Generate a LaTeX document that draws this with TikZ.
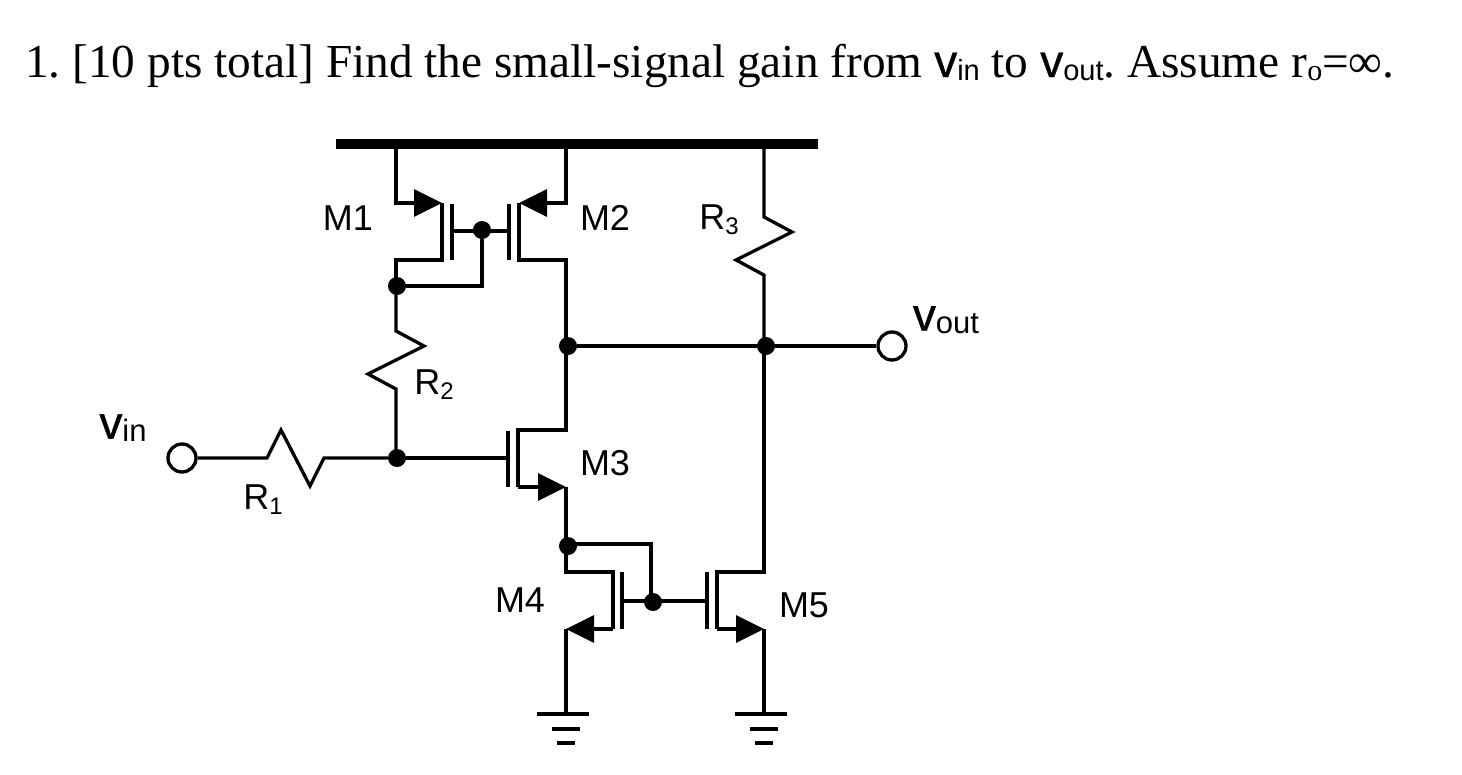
\documentclass[tikz,border=0pt]{standalone}
\usepackage{fontspec}
\setmainfont{Liberation Serif}
\newfontfamily\arialfont{Liberation Sans}
\newfontfamily\sigfont[FakeBold=0.8]{Liberation Sans}
\usetikzlibrary{arrows.meta}

\newcommand{\fsize}[1]{\fontsize{#1}{#1}\selectfont}
\newcommand{\lowtext}[3]{\raisebox{#1}{\fsize{#2}#3}}
\newcommand{\sigv}[2]{{\arialfont\fsize{46}{\sigfont v}\lowtext{-3pt}{#1}{#2}}}

\tikzstyle{wire} = [line width=3.3pt, line join=miter, draw=black]
\tikzstyle{plate} = [line width=3.5pt, draw=black]
\tikzstyle{src} = [wire, -{Triangle[length=28pt,width=27pt]}]
\tikzstyle{railbar} = [rectangle, fill=black, minimum width=482pt, minimum height=10pt, inner sep=0pt]
\tikzstyle{dotnode} = [circle, fill=black, minimum size=18pt, inner sep=0pt]
\tikzstyle{termnode} = [circle, draw=black, line width=3.3pt, fill=white, minimum size=28pt, inner sep=0pt]
\tikzstyle{lab} = [inner sep=0pt, font=\arialfont\fsize{36}]
\tikzstyle{titlefont} = [inner sep=0pt, anchor=base west, font=\frenchspacing\fsize{47.3}]

\begin{document}
\begin{tikzpicture}[x=1pt,y=-1pt,node distance=100pt]
\useasboundingbox (0,0) rectangle (1462,774);

%Title
\node (title) [titlefont] at (25,77) {1. [10 pts total] Find the small-signal gain from \sigv{29}{in} to \sigv{29}{out}. Assume r\lowtext{-3pt}{30}{o}=∞.};

%Rail and junctions
\node (rail) [railbar] at (577,144) {};
\node (Jout) [dotnode] at (766,346) {};
\node (Jdrain) [dotnode,left of=Jout,xshift=-98pt] {};
\node (Jgate1) [dotnode] at (482,230) {};
\node (Jdiode1) [dotnode,left of=Jgate1,yshift=-56pt,xshift=15pt] {};
\node (Jin) [dotnode,below of=Jdiode1,yshift=-72pt] {};
\node (Jmid) [dotnode,below of=Jdrain,yshift=-100pt] {};
\node (Jgate4) [dotnode,right of=Jmid,xshift=-15pt,yshift=-56pt] {};

%Terminals
\node (Tin) [termnode] at (182,458) {};
\node (Tout) [termnode] at (892,346) {};

%Labels
\node (M1lab) [lab] at (348,218) {M1};
\node (M2lab) [lab,right of=M1lab,xshift=157pt] {M2};
\node (M3lab) [lab,below of=M2lab,yshift=-145pt] {M3};
\node (M4lab) [lab] at (520,600) {M4};
\node (M5lab) [lab] at (804,605) {M5};
\node (R1lab) [lab] at (263,500) {R\lowtext{-5pt}{24}{1}};
\node (R2lab) [lab] at (434,385) {R\lowtext{-5pt}{24}{2}};
\node (R3lab) [lab] at (719,220) {R\lowtext{-5pt}{24}{3}};
\node (vinlab) [lab] at (123,428) {\sigv{31}{in}};
\node (voutlab) [lab] at (946,320) {\sigv{31}{out}};

%Device corners
\coordinate (M1s) at (442,203);
\coordinate (M1d) at (442,260);
\coordinate (M2s) at (519,203);
\coordinate (M2d) at (519,260);
\coordinate (M3d) at (518,430);
\coordinate (M3s) at (518,487);
\coordinate (M4d) at (613,572);
\coordinate (M4s) at (613,629);
\coordinate (M5d) at (717,572);
\coordinate (M5s) at (717,629);
\coordinate (Nleft) at (396,286);
\coordinate (Ndrain) at (566,346);
\coordinate (Nmid) at (566,546);
\coordinate (Ntap) at (568,544);
\coordinate (Nout) at (764,346);
\coordinate (Gnd4) at (566,714);
\coordinate (Gnd5) at (764,714);

%PMOS pair
\draw [plate] (452,204) -- (452,260);
\draw [plate] (509,204) -- (509,260);
\draw [wire] (M1s) -- (M1d) -| (Nleft);
\draw [wire] (M2s) -- (M2d) -| (Ndrain);
\draw [src] (rail.south -| Nleft) |- (M1s);
\draw [src] (rail.south -| Ndrain) |- (M2s);
\draw [wire] (452,231) -- (509,231);
\draw [wire] (Jgate1) |- (Jdiode1);

%R2, R3
\draw [wire] (Nleft) -- (396,331) -- ++(28,15) -- ++(-56,28) -- ++(28,15) -- (Jin.center -| Nleft);
\draw [wire] (rail.south -| Nout) -- (764,217) -- ++(28,15) -- ++(-56,28) -- ++(28,15) -- (Nout);

%Input
\draw [wire] (Tin) -- (267,458) -- ++(14,-28) -- ++(29,56) -- ++(14,-28) -- (Jin);
\draw [wire] (Jin) -- (508,458);

%M3
\draw [plate] (508,431) -- (508,487);
\draw [wire] (M3s) -- (M3d) -| (Ndrain);
\draw [src] (M3s) -- (Nmid |- M3s);
\draw [wire] (Nmid |- M3s) -- (Nmid);

%Output
\draw [wire] (Jdrain) -- (Tout);

%M4, M5
\draw [plate] (622,572) -- (622,629);
\draw [plate] (707,572) -- (707,629);
\draw [wire] (M4s) -- (M4d) -| (Nmid);
\draw [wire] (M5s) -- (M5d) -| (Nout);
\draw [src] (M4s) -- (Gnd4 |- M4s);
\draw [src] (M5s) -- (Gnd5 |- M5s);
\draw [wire] (Gnd4 |- M4s) -- (Gnd4);
\draw [wire] (Gnd5 |- M5s) -- (Gnd5);
\draw [wire] (622,601) -- (707,601);
\draw [wire] (Ntap) -| (651,601);

%Grounds
\foreach \g in {Gnd4,Gnd5} {
  \draw [wire] ([xshift=-29pt]\g) -- ([xshift=23pt]\g);
  \draw [wire] ([xshift=-14pt,yshift=-15pt]\g) -- ([xshift=14pt,yshift=-15pt]\g);
  \draw [wire] ([xshift=-9pt,yshift=-29pt]\g) -- ([xshift=9pt,yshift=-29pt]\g);
}
\end{tikzpicture}
\end{document}
